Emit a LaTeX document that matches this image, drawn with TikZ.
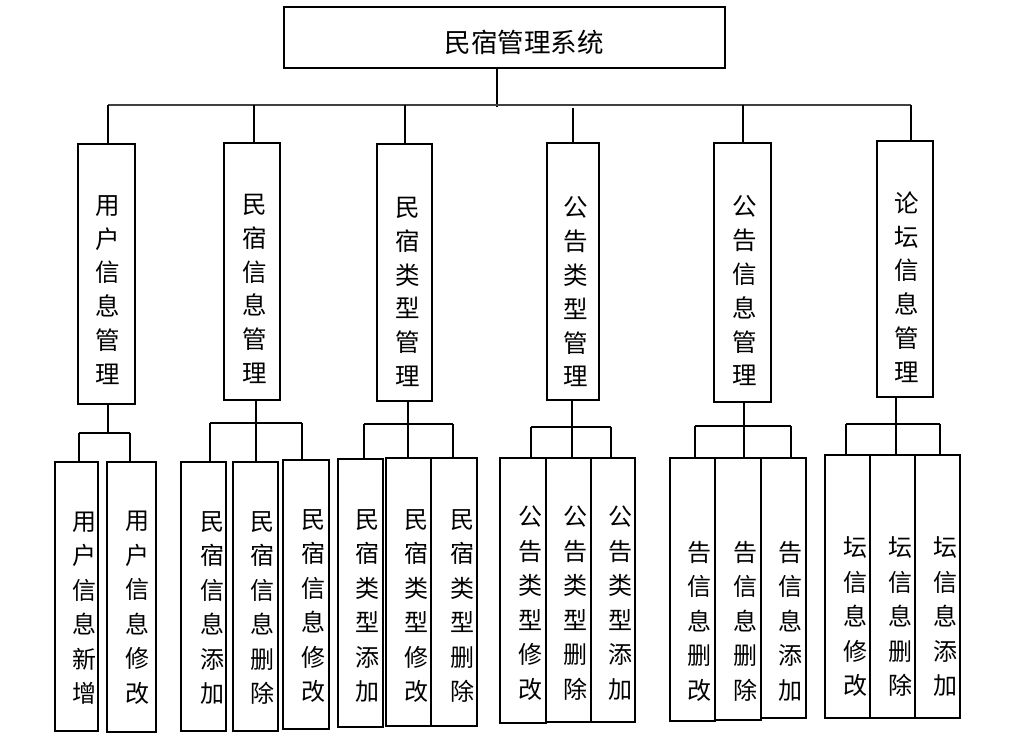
\documentclass[tikz,border=0pt]{standalone}
\usepackage{fontspec}
\newfontfamily\cjk{Noto Sans CJK SC}
\tikzset{
  box/.style={draw=black, line width=2.2pt, fill=none, inner sep=0pt, outer sep=0pt},
  conn/.style={draw=black, line width=2pt},
  bus/.style={draw=black!75, line width=2.2pt},
  vt/.style={font=\cjk\fontsize{24}{34.5}\selectfont, align=center, inner sep=0pt},
  vtt/.style={font=\cjk\fontsize{24.5}{33.8}\selectfont, align=center, inner sep=0pt},
  titletext/.style={font=\cjk\fontsize{26.5}{30}\selectfont, inner sep=0pt}
}
\newcommand\mkbox[5]{%
  \node[box, minimum width={(#4-#2)*1pt}, minimum height={(#5-#3)*1pt}] (#1) at ({(#2+#4)/2},{(#3+#5)/2}) {};}
\begin{document}
\begin{tikzpicture}[x=1pt,y=-1pt]
\useasboundingbox (0,0) rectangle (1015,742);
% root
\mkbox{root}{284}{7}{725}{68}
\node[titletext] (title) at (524,42) {民宿管理系统};
% level 1
\mkbox{m1}{78}{144}{135}{404}
\mkbox{m2}{224}{143}{280}{400}
\mkbox{m3}{377}{144}{432}{401}
\mkbox{m4}{547}{143}{599}{400}
\mkbox{m5}{714}{143}{771}{402}
\mkbox{m6}{877}{141}{933}{397}
\node[vtt] (t1) at (108,290) {用\\户\\信\\息\\管\\理};
\node[vtt] (t2) at (255,289) {民\\宿\\信\\息\\管\\理};
\node[vtt] (t3) at (408,292) {民\\宿\\类\\型\\管\\理};
\node[vtt] (t4) at (576,292) {公\\告\\类\\型\\管\\理};
\node[vtt] (t5) at (745,291) {公\\告\\信\\息\\管\\理};
\node[vtt] (t6) at (907,287) {论\\坛\\信\\息\\管\\理};
% bus
\coordinate (rj) at (497,107);
\coordinate (busL) at (108,105);
\coordinate (busR) at (911,105);
\draw[conn] (root.south -| rj) -- (rj);
\draw[bus] (busL) -- (busR);
\coordinate (b1) at (108,105);
\coordinate (b2) at (254,105);
\coordinate (b3) at (405,105);
\coordinate (b4) at (573,108);
\coordinate (b5) at (743,105);
\coordinate (b6) at (911,105);
\draw[conn] (b1) -- (b1 |- m1.north);
\draw[conn] (b2) -- (b2 |- m2.north);
\draw[conn] (b3) -- (b3 |- m3.north);
\draw[conn] (b4) -- (b4 |- m4.north);
\draw[conn] (b5) -- (b5 |- m5.north);
\draw[conn] (b6) -- (b6 |- m6.north);
% level 2 boxes
\mkbox{A}{55}{462}{98}{731}
\mkbox{B}{107}{462}{156}{732}
\mkbox{C}{181}{462}{226}{731}
\mkbox{D}{233}{462}{278}{731}
\mkbox{E}{283}{460}{329}{729}
\mkbox{F}{338}{459}{383}{727}
\mkbox{G}{386}{458}{431}{726}
\mkbox{H}{431}{458}{477}{726}
\mkbox{I}{500}{458}{546}{723}
\mkbox{J}{546}{458}{591}{722}
\mkbox{K}{591}{458}{635}{722}
\mkbox{L}{670}{458}{715}{721}
\mkbox{M}{715}{458}{761}{720}
\mkbox{N}{761}{458}{806}{718}
\mkbox{O}{825}{455}{870}{718}
\mkbox{P}{870}{455}{915}{718}
\mkbox{Q}{915}{455}{960}{718}
\node[vt] (tA) at (84,608) {用\\户\\信\\息\\新\\增};
\node[vt] (tB) at (137,608) {用\\户\\信\\息\\修\\改};
\node[vt] (tC) at (212,608) {民\\宿\\信\\息\\添\\加};
\node[vt] (tD) at (262,608) {民\\宿\\信\\息\\删\\除};
\node[vt] (tE) at (313,606) {民\\宿\\信\\息\\修\\改};
\node[vt] (tF) at (367,606) {民\\宿\\类\\型\\添\\加};
\node[vt] (tG) at (416,606) {民\\宿\\类\\型\\修\\改};
\node[vt] (tH) at (462,606) {民\\宿\\类\\型\\删\\除};
\node[vt] (tI) at (530,603) {公\\告\\类\\型\\修\\改};
\node[vt] (tJ) at (575,603) {公\\告\\类\\型\\删\\除};
\node[vt] (tK) at (620,603) {公\\告\\类\\型\\添\\加};
\node[vt] (tL) at (699,621) {告\\信\\息\\删\\改};
\node[vt] (tM) at (745,621) {告\\信\\息\\删\\除};
\node[vt] (tN) at (790,621) {告\\信\\息\\添\\加};
\node[vt] (tO) at (855,617) {坛\\信\\息\\修\\改};
\node[vt] (tP) at (900,617) {坛\\信\\息\\删\\除};
\node[vt] (tQ) at (945,617) {坛\\信\\息\\添\\加};
% group 1
\coordinate (j1) at (108,433);
\coordinate (j1l) at (79,433);
\coordinate (j1r) at (130,433);
\draw[conn] (m1.south -| j1) -- (j1);
\draw[conn] (j1l) -- (j1r);
\draw[conn] (j1l) -- (j1l |- A.north);
\draw[conn] (j1r) -- (j1r |- B.north);
% group 2
\coordinate (j2) at (256,423);
\coordinate (j2l) at (210,423);
\coordinate (j2r) at (302,423);
\draw[conn] (m2.south -| j2) -- (j2);
\draw[conn] (j2l) -- (j2r);
\draw[conn] (j2l) -- (j2l |- C.north);
\draw[conn] (j2) -- (j2 |- D.north);
\draw[conn] (j2r) -- (j2r |- E.north);
% group 3
\coordinate (j3) at (408,424);
\coordinate (j3l) at (364,424);
\coordinate (j3r) at (453,424);
\draw[conn] (m3.south -| j3) -- (j3);
\draw[conn] (j3l) -- (j3r);
\draw[conn] (j3l) -- (j3l |- F.north);
\draw[conn] (j3) -- (j3 |- G.north);
\draw[conn] (j3r) -- (j3r |- H.north);
% group 4
\coordinate (j4) at (572,427);
\coordinate (j4l) at (531,427);
\coordinate (j4r) at (611,427);
\draw[conn] (m4.south -| j4) -- (j4);
\draw[conn] (j4l) -- (j4r);
\draw[conn] (j4l) -- (j4l |- I.north);
\draw[conn] (j4) -- (j4 |- J.north);
\draw[conn] (j4r) -- (j4r |- K.north);
% group 5
\coordinate (j5) at (744,426);
\coordinate (j5l) at (695,426);
\coordinate (j5r) at (791,426);
\draw[conn] (m5.south -| j5) -- (j5);
\draw[conn] (j5l) -- (j5r);
\draw[conn] (j5l) -- (j5l |- L.north);
\draw[conn] (j5) -- (j5 |- M.north);
\draw[conn] (j5r) -- (j5r |- N.north);
% group 6
\coordinate (j6) at (896,424);
\coordinate (j6l) at (846,424);
\coordinate (j6r) at (940,424);
\draw[conn] (m6.south -| j6) -- (j6);
\draw[conn] (j6l) -- (j6r);
\draw[conn] (j6l) -- (j6l |- O.north);
\draw[conn] (j6) -- (j6 |- P.north);
\draw[conn] (j6r) -- (j6r |- Q.north);
\end{tikzpicture}
\end{document}
